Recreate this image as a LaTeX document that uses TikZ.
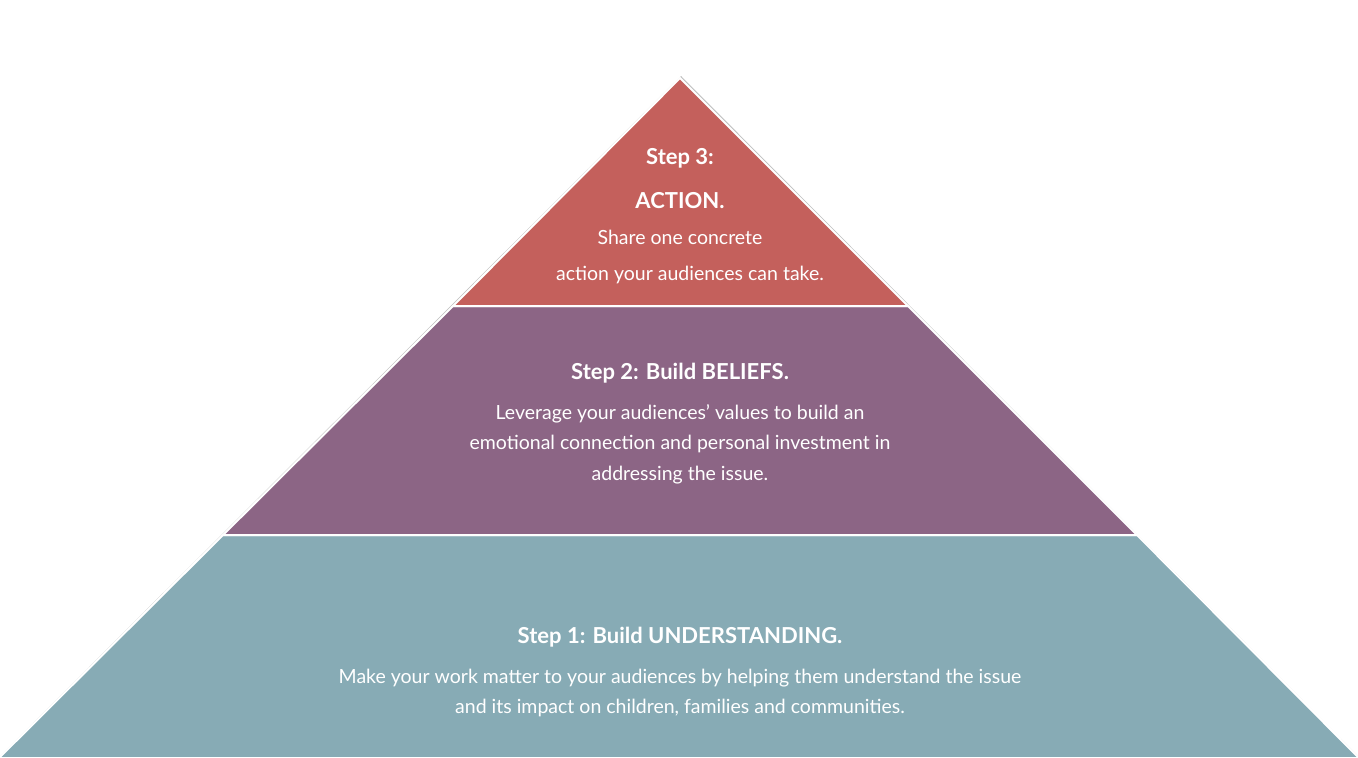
\documentclass[tikz,border=0pt]{standalone}
\usepackage{fontspec}
\setmainfont{Lato}
\definecolor{topc}{HTML}{C4605C}
\definecolor{midc}{HTML}{8C6585}
\definecolor{botc}{HTML}{87ABB5}
\begin{document}
\begin{tikzpicture}[x=1pt,y=-1pt,
  tier/.style={draw=white,line width=2pt},
  head/.style={text=white,font=\fontsize{22}{26}\selectfont\bfseries},
  body/.style={text=white,font=\fontsize{19.5}{30}\selectfont,align=center}]
\useasboundingbox (0,0) rectangle (1358,758);
\fill[white] (0,0) rectangle (1358,758);
\fill[black!25] (681,76) -- (1358,756) -- (1358,758) -- (0,758) -- (0,756) -- cycle;
\filldraw[tier,fill=botc] (223,535) -- (1137,535) -- (1359,758) -- (-1,758) -- cycle;
\filldraw[tier,fill=midc] (453,306) -- (908,306) -- (1137,535) -- (223,535) -- cycle;
\filldraw[tier,fill=topc] (680,78) -- (908,306) -- (453,306) -- cycle;
\node[head] (s3) at (680,158) {Step 3:};
\node[head] (a3) at (680,201) {ACTION.};
\node[body] (b3a) at (680,237) {Share one concrete};
\node[body] (b3b) at (690,275) {action your audiences can take.};
\node[head] (s2) at (680,373) {Step 2: Build BELIEFS.};
\node[body,font=\fontsize{19.5}{30.5}\selectfont] (b2) at (680,444) {Leverage your audiences' values to build an\\emotional connection and personal investment in\\addressing the issue.};
\node[head] (s1) at (680,637) {Step 1: Build UNDERSTANDING.};
\node[body] (b1) at (680,693) {Make your work matter to your audiences by helping them understand the issue\\and its impact on children, families and communities.};
\end{tikzpicture}
\end{document}
